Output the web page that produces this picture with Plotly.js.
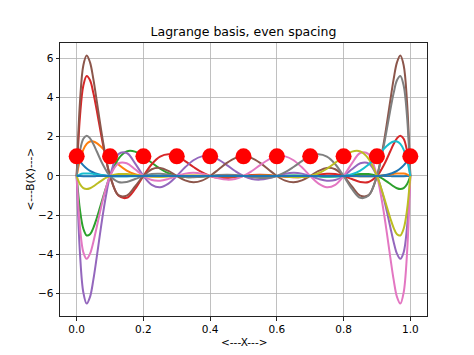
<!DOCTYPE html>
<html>
<head>
<meta charset="utf-8">
<script src="https://cdn.plot.ly/plotly-3.0.1.min.js"></script>
<style>html,body{margin:0;padding:0;background:#fff;}#chart{width:474px;height:355px;}</style>
</head>
<body>
<div id="chart"></div>
<script>
// sample positions along x
const X = [0, 0.01, 0.02, 0.03, 0.04, 0.05, 0.06, 0.07, 0.08, 0.09, 0.1,
  0.125, 0.15, 0.175, 0.2, 0.225, 0.25, 0.275, 0.3, 0.325, 0.35, 0.375, 0.4, 0.425, 0.45, 0.475, 0.5,
  0.525, 0.55, 0.575, 0.6, 0.625, 0.65, 0.675, 0.7, 0.725, 0.75, 0.775, 0.8, 0.825, 0.85, 0.875, 0.9,
  0.91, 0.92, 0.93, 0.94, 0.95, 0.96, 0.97, 0.98, 0.99, 1.0];

// basis curves B0..B10
const B0 = [1, 0.740, 0.5377, 0.3821, 0.2642, 0.1762, 0.1119, 0.0660, 0.0342, 0.0132, 0, -0.0117, -0.0093, -0.0039, 0, 0.0017, 0.0016, 0.0008, 0, -0.0005, -0.0005, -0.0003, 0, 0.0002, 0.0003, 0.0002, 0,
  -0.0002, -0.0002, -0.0002, 0, 0.0002, 0.0003, 0.0002, 0, -0.0003, -0.0005, -0.0005, 0, 0.0008, 0.0016, 0.0017, 0, -0.0013, -0.0030, -0.0050, -0.0071, -0.0093, -0.0110, -0.0118, -0.0110, -0.0075, 0];
const B1 = [0, 0.8222, 1.3442, 1.6376, 1.7610, 1.7620, 1.6783, 1.5399, 1.3698, 1.1856, 1, 0.5829, 0.2782, 0.0919, 0, -0.0300, -0.0273, -0.0131, 0, 0.0070, 0.0076, 0.0043, 0, -0.0030, -0.0038, -0.0024, 0,
  0.0021, 0.0029, 0.0021, 0, -0.0023, -0.0035, -0.0027, 0, 0.0037, 0.0063, 0.0056, 0, -0.0095, -0.0185, -0.0188, 0, 0.0146, 0.0334, 0.0557, 0.0799, 0.1036, 0.1229, 0.1318, 0.1222, 0.0831, 0];
const B2 = [0, -1.7527, -2.6884, -3.0343, -2.9717, -2.6430, -2.1578, -1.5991, -1.0274, -0.4850, 0, 0.8743, 1.2519, 1.2409, 1, 0.6745, 0.3682, 0.1379, 0, -0.0566, -0.0573, -0.0306, 0, 0.0198, 0.0238, 0.0148, 0,
  -0.0125, -0.0170, -0.0119, 0, 0.0126, 0.0191, 0.0149, 0, -0.0197, -0.0335, -0.0293, 0, 0.0496, 0.0963, 0.0971, 0, -0.0751, -0.1712, -0.2848, -0.4082, -0.5286, -0.6256, -0.6699, -0.6204, -0.4215, 0];
const B3 = [0, 3.0622, 4.6087, 5.0947, 4.8767, 4.2287, 3.3566, 2.4103, 1.4943, 0.6775, 0, -0.9992, -1.1128, -0.6618, 0, 0.5995, 0.9819, 1.1030, 1, 0.7543, 0.4582, 0.1902, 0, -0.0950, -0.1057, -0.0619, 0,
  0.0482, 0.0634, 0.0432, 0, -0.0439, -0.0655, -0.0503, 0, 0.0649, 0.1091, 0.0947, 0, -0.1576, -0.3035, -0.3041, 0, 0.2332, 0.5303, 0.8799, 1.2587, 1.6264, 1.9211, 2.0531, 1.8977, 1.2870, 0];
const B4 = [0, -3.9848, -5.9428, -6.5060, -6.1636, -5.2859, -4.1464, -2.9398, -1.7979, -0.8031, 0, 1.1128, 1.1685, 0.6434, 0, -0.4497, -0.5728, -0.3861, 0, 0.4400, 0.8019, 0.9985, 1, 0.8311, 0.5552, 0.2529, 0,
  -0.1518, -0.1851, -0.1187, 0, 0.1109, 0.1604, 0.1200, 0, -0.1485, -0.2455, -0.2098, 0, 0.3406, 0.6492, 0.6442, 0, -0.4882, -1.1064, -1.8304, -2.6107, -3.3638, -3.9623, -4.2232, -3.8935, -2.6340, 0];
const B5 = [0, 3.8058, 5.6456, 6.1461, 5.7884, 4.9335, 3.8449, 2.7073, 1.6438, 0.7287, 0, -0.9793, -1.0015, -0.5346, 0, 0.3434, 0.4124, 0.2574, 0, -0.2263, -0.3208, -0.2396, 0, 0.3324, 0.6662, 0.9106, 1,
  0.9106, 0.6662, 0.3324, 0, -0.2396, -0.3208, -0.2263, 0, 0.2574, 0.4124, 0.3434, 0, -0.5346, -1.0015, -0.9793, 0, 0.7287, 1.6438, 2.7073, 3.8449, 4.9335, 5.7884, 6.1461, 5.6456, 3.8058, 0];
const B6 = [0, -2.6340, -3.8935, -4.2232, -3.9623, -3.3638, -2.6107, -1.8304, -1.1064, -0.4882, 0, 0.6442, 0.6492, 0.3406, 0, -0.2098, -0.2455, -0.1485, 0, 0.1200, 0.1604, 0.1109, 0, -0.1187, -0.1851, -0.1518, 0,
  0.2529, 0.5552, 0.8311, 1, 0.9985, 0.8019, 0.4400, 0, -0.3861, -0.5728, -0.4497, 0, 0.6434, 1.1685, 1.1128, 0, -0.8031, -1.7979, -2.9398, -4.1464, -5.2859, -6.1636, -6.5060, -5.9428, -3.9848, 0];
const B7 = [0, 1.2870, 1.8977, 2.0531, 1.9211, 1.6264, 1.2587, 0.8799, 0.5303, 0.2332, 0, -0.3041, -0.3035, -0.1576, 0, 0.0947, 0.1091, 0.0649, 0, -0.0503, -0.0655, -0.0439, 0, 0.0432, 0.0634, 0.0482, 0,
  -0.0619, -0.1057, -0.0950, 0, 0.1902, 0.4582, 0.7543, 1, 1.1030, 0.9819, 0.5995, 0, -0.6618, -1.1128, -0.9992, 0, 0.6775, 1.4943, 2.4103, 3.3566, 4.2287, 4.8767, 5.0947, 4.6087, 3.0622, 0];
const B8 = [0, -0.4215, -0.6204, -0.6699, -0.6256, -0.5286, -0.4082, -0.2848, -0.1712, -0.0751, 0, 0.0971, 0.0963, 0.0496, 0, -0.0293, -0.0335, -0.0197, 0, 0.0149, 0.0191, 0.0126, 0, -0.0119, -0.0170, -0.0125, 0,
  0.0148, 0.0238, 0.0198, 0, -0.0306, -0.0573, -0.0566, 0, 0.1379, 0.3682, 0.6745, 1, 1.2409, 1.2519, 0.8743, 0, -0.4850, -1.0274, -1.5991, -2.1578, -2.6430, -2.9717, -3.0343, -2.6884, -1.7527, 0];
const B9 = [0, 0.0831, 0.1222, 0.1318, 0.1229, 0.1036, 0.0799, 0.0557, 0.0334, 0.0146, 0, -0.0188, -0.0185, -0.0095, 0, 0.0056, 0.0063, 0.0037, 0, -0.0027, -0.0035, -0.0023, 0, 0.0021, 0.0029, 0.0021, 0,
  -0.0024, -0.0038, -0.0030, 0, 0.0043, 0.0076, 0.0070, 0, -0.0131, -0.0273, -0.0300, 0, 0.0919, 0.2782, 0.5829, 1, 1.1856, 1.3698, 1.5399, 1.6783, 1.7620, 1.7610, 1.6376, 1.3442, 0.8222, 0];
const B10 = [0, -0.0075, -0.0110, -0.0118, -0.0110, -0.0093, -0.0071, -0.0050, -0.0030, -0.0013, 0, 0.0017, 0.0016, 0.0008, 0, -0.0005, -0.0005, -0.0003, 0, 0.0002, 0.0003, 0.0002, 0, -0.0002, -0.0002, -0.0002, 0,
  0.0002, 0.0003, 0.0002, 0, -0.0003, -0.0005, -0.0005, 0, 0.0008, 0.0016, 0.0017, 0, -0.0039, -0.0093, -0.0117, 0, 0.0132, 0.0342, 0.0660, 0.1119, 0.1762, 0.2642, 0.3821, 0.5377, 0.740, 1];

// interpolation nodes
const NODES_X = [0, 0.1, 0.2, 0.3, 0.4, 0.5, 0.6, 0.7, 0.8, 0.9, 1.0];
const NODES_Y = [1, 1, 1, 1, 1, 1, 1, 1, 1, 1, 1];

const X_TICKS = [0, 0.2, 0.4, 0.6, 0.8, 1.0];
const X_TICK_TEXT = ['0.0', '0.2', '0.4', '0.6', '0.8', '1.0'];
const Y_TICKS = [-6, -4, -2, 0, 2, 4, 6];
const Y_TICK_TEXT = ['\u22126', '\u22124', '\u22122', '0', '2', '4', '6'];

const CURVES = [B0, B1, B2, B3, B4, B5, B6, B7, B8, B9, B10];
const COLORS = ['#1f77b4', '#ff7f0e', '#2ca02c', '#d62728', '#9467bd', '#8c564b',
                '#e377c2', '#7f7f7f', '#bcbd22', '#17becf', '#1f77b4'];

const traces = CURVES.map((ys, i) => ({
  x: X, y: ys, type: 'scatter', mode: 'lines',
  line: {color: COLORS[i], width: 2, shape: 'spline', smoothing: 1},
  hoverinfo: 'skip', showlegend: false
}));
traces.push({
  x: NODES_X, y: NODES_Y, type: 'scatter', mode: 'markers',
  marker: {color: '#ff0000', size: 16, line: {width: 0}},
  showlegend: false
});

const FONT = 'DejaVu Sans, sans-serif';
const layout = {
  width: 474, height: 355,
  margin: {l: 59.5, r: 47, t: 43, b: 39},
  paper_bgcolor: '#ffffff', plot_bgcolor: '#ffffff',
  font: {family: FONT, size: 10, color: '#000'},
  showlegend: false,
  title: {text: 'Lagrange basis, even spacing', font: {family: FONT, size: 12.5, color: '#000'},
          x: 0.5, xref: 'paper', xanchor: 'center', y: 1 - 32 / 355, yref: 'container', yanchor: 'middle'},
  xaxis: {range: [-0.05, 1.05], tickmode: 'array', tickvals: X_TICKS, ticktext: X_TICK_TEXT,
          showgrid: true, gridcolor: '#b0b0b0', gridwidth: 0.8, zeroline: false,
          showline: true, mirror: true, linecolor: '#222', linewidth: 1,
          ticks: 'outside', ticklen: 3.5, tickcolor: '#222', tickwidth: 1,
          tickfont: {family: FONT, size: 10.5, color: '#000'}},
  yaxis: {range: [-7.139, 6.779], tickmode: 'array', tickvals: Y_TICKS, ticktext: Y_TICK_TEXT,
          showgrid: true, gridcolor: '#b0b0b0', gridwidth: 0.8, zeroline: false,
          showline: true, mirror: true, linecolor: '#222', linewidth: 1,
          ticks: 'outside', ticklen: 3.5, tickcolor: '#222', tickwidth: 1,
          tickfont: {family: FONT, size: 10.5, color: '#000'}},
  annotations: [
    {text: '<---X--->', xref: 'paper', yref: 'paper', x: 0.5, y: 0, yshift: -26, xanchor: 'center', yanchor: 'middle',
     showarrow: false, font: {family: FONT, size: 10.5, color: '#000'}},
    {text: '<---B(X)--->', xref: 'paper', yref: 'paper', x: 0, y: 0.5, xshift: -31, textangle: -90,
     xanchor: 'center', yanchor: 'middle', showarrow: false, font: {family: FONT, size: 10.5, color: '#000'}}
  ]
};

Plotly.newPlot('chart', traces, layout, {staticPlot: true, displayModeBar: false});
</script>
</body>
</html>
